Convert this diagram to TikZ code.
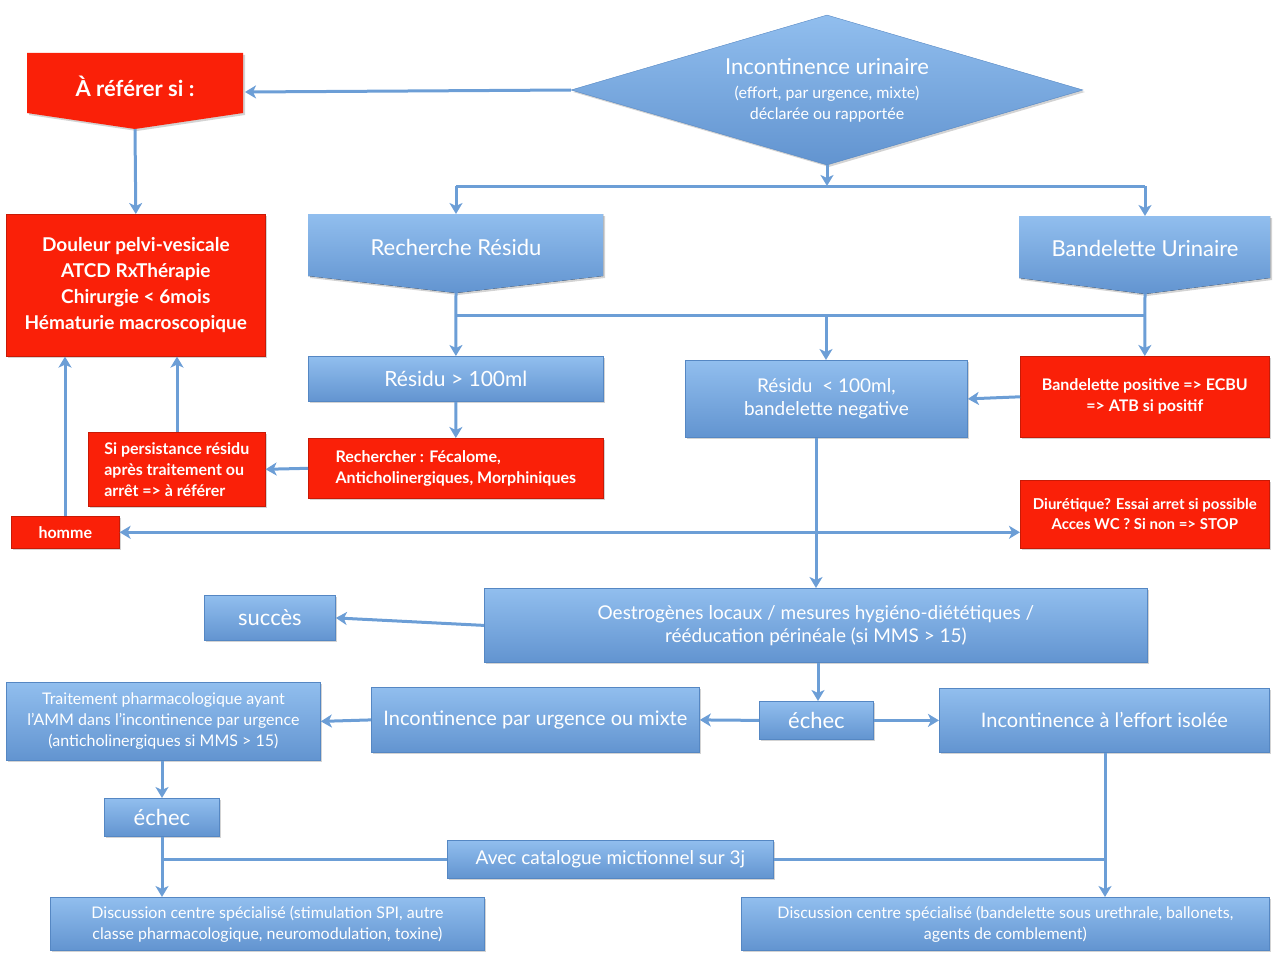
\documentclass[tikz,border=0pt]{standalone}
\usepackage{fontspec}
\setmainfont{Lato}
\usetikzlibrary{positioning,shapes.geometric,arrows.meta,shadows}
\definecolor{btop}{RGB}{145,190,238}
\definecolor{bbot}{RGB}{98,148,208}
\definecolor{bedge}{RGB}{85,135,195}
\definecolor{rfill}{RGB}{250,32,8}
\definecolor{rarrow}{RGB}{108,158,214}
\begin{document}
\begin{tikzpicture}[
  x=1pt, y=-1pt,
  bx/.style={draw=bedge, line width=0.8pt, top color=btop, bottom color=bbot, text=white,
    align=center, inner sep=2pt, anchor=north west, font=\fontsize{19}{23}\selectfont,
    drop shadow={shadow xshift=2pt, shadow yshift=-2pt, opacity=0.35}},
  rd/.style={draw=rfill!80!black, line width=0.6pt, fill=rfill, text=white, align=center,
    inner sep=2pt, anchor=north west, font=\bfseries\fontsize{16}{21}\selectfont,
    drop shadow={shadow xshift=2pt, shadow yshift=-2pt, opacity=0.35}},
  ar/.style={draw=rarrow, line width=3pt, -{Stealth[length=11pt,width=13pt,inset=3pt]}},
  ln/.style={draw=rarrow, line width=3pt}
]
\useasboundingbox (0,0) rectangle (1278,958);

% top of the chart
\node[diamond, draw=bedge, top color=btop, bottom color=bbot, text=white, align=center,
  minimum width=512pt, minimum height=150pt, inner sep=0pt, aspect=3.4,
  font=\fontsize{16}{21}\selectfont,
  drop shadow={shadow xshift=2pt, shadow yshift=-2pt, opacity=0.35}] (ui) at (827,90)
  {{\fontsize{22}{26}\selectfont Incontinence urinaire}\\[3pt]
   (effort, par urgence, mixte)\\
   déclarée ou rapportée};

\fill[rfill, drop shadow={shadow xshift=2pt, shadow yshift=-2pt, opacity=0.35}]
  (27,53) -- (243,53) -- (243,113) -- (135,129) -- (27,113) -- cycle;
\node[text=white, font=\bfseries\fontsize{22}{26}\selectfont] (ref) at (135,86) {À référer si :};
\coordinate (refb) at (135,129);

\node[rd, minimum width=259pt, minimum height=142pt, font=\bfseries\fontsize{19}{26}\selectfont] (dou) at (6,214)
  {Douleur pelvi-vesicale\\ATCD RxThérapie\\Chirurgie < 6mois\\Hématurie macroscopique};

\fill[top color=btop, bottom color=bbot, drop shadow={shadow xshift=2pt, shadow yshift=-2pt, opacity=0.35}]
  (308,214) -- (603,214) -- (603,276) -- (456,293) -- (308,276) -- cycle;
\node[text=white, font=\fontsize{22}{26}\selectfont] (rr) at (456,247) {Recherche Résidu};
\coordinate (rrb) at (456,293);

\fill[top color=btop, bottom color=bbot, drop shadow={shadow xshift=2pt, shadow yshift=-2pt, opacity=0.35}]
  (1019,216) -- (1270,216) -- (1270,278) -- (1145,294) -- (1019,278) -- cycle;
\node[text=white, font=\fontsize{22}{26}\selectfont] (bu) at (1145,248) {Bandelette Urinaire};
\coordinate (bub) at (1145,294);

% middle
\node[bx, minimum width=295pt, minimum height=45pt, font=\fontsize{21}{25}\selectfont] (rsup) at (308,356) {Résidu > 100ml};
\node[bx, minimum width=282pt, minimum height=77pt] (rinf) at (685,360) {Résidu \ < 100ml,\\bandelette negative};
\node[rd, minimum width=249pt, minimum height=81pt] (bpos) at (1020,356) {Bandelette positive => ECBU\\=> ATB si positif};
\node[rd, minimum width=295pt, minimum height=60pt, align=left] (rech) at (308,438) {Rechercher : Fécalome,\\Anticholinergiques, Morphiniques};
\node[rd, minimum width=177pt, minimum height=74pt, align=left] (pers) at (88,432) {Si persistance résidu\\après traitement ou\\arrêt => à référer};
\node[rd, minimum width=108pt, minimum height=32pt] (hom) at (11,516) {homme};
\node[rd, minimum width=249pt, minimum height=68pt, font=\bfseries\fontsize{15}{20}\selectfont] (diu) at (1020,480) {Diurétique? Essai arret si possible\\Acces WC ? Si non => STOP};

% bottom
\node[bx, minimum width=131pt, minimum height=45pt, font=\fontsize{22}{26}\selectfont] (suc) at (204,595) {succès};
\node[bx, minimum width=663pt, minimum height=74pt] (oes) at (484,588) {Oestrogènes locaux / mesures hygiéno-diététiques /\\rééducation périnéale (si MMS > 15)};
\node[bx, minimum width=314pt, minimum height=78pt, font=\fontsize{16}{21}\selectfont] (trt) at (6,682) {Traitement pharmacologique ayant\\l’AMM dans l’incontinence par urgence\\(anticholinergiques si MMS > 15)};
\node[bx, minimum width=328pt, minimum height=65pt, font=\fontsize{20}{24}\selectfont] (urg) at (371,687) {Incontinence par urgence ou mixte};
\node[bx, minimum width=114pt, minimum height=38pt, font=\fontsize{22}{26}\selectfont] (ech) at (759,701) {échec};
\node[bx, minimum width=330pt, minimum height=64pt, font=\fontsize{20}{24}\selectfont] (eff) at (939,688) {Incontinence à l’effort isolée};
\node[bx, minimum width=115pt, minimum height=38pt, font=\fontsize{22}{26}\selectfont] (ech2) at (104,798) {échec};
\node[bx, minimum width=326pt, minimum height=38pt] (cat) at (447,840) {Avec catalogue mictionnel sur 3j};
\node[bx, minimum width=434pt, minimum height=53pt, font=\fontsize{16}{21}\selectfont] (dl) at (50,897) {Discussion centre spécialisé (stimulation SPI, autre\\classe pharmacologique, neuromodulation, toxine)};
\node[bx, minimum width=528pt, minimum height=53pt, font=\fontsize{16}{21}\selectfont] (dr) at (741,897) {Discussion centre spécialisé (bandelette sous urethrale, ballonets,\\agents de comblement)};

% connectors
\draw[ar] (ui.west) -- (245,92);
\draw[ar] (refb) -- (dou.north);
\draw[ar] (ui.south) -- (ui.south |- 0,186);
\draw[ln] (456,186) -- (1145,186);
\draw[ar] (456,186) -- (rr.north |- 0,214);
\draw[ar] (1145,186) -- (1145,216);
\draw[ar] (rrb) -- (rsup.north);
\draw[ln] (456,315) -- (1145,315);
\draw[ar] (826,315) -- (rinf.north -| 826,0);
\draw[ar] (bub) -- (bpos.north);
\draw[ar] (rsup.south) -- (rech.north);
\draw[ar] (bpos.west) -- (rinf.east);
\draw[ar] (rech.west) -- (pers.east);
\draw[ar] (pers.north -| 177,0) -- (dou.south -| 177,0);
\draw[ar] (hom.north -| 65,0) -- (dou.south -| 65,0);
\draw[ar, {Stealth[length=11pt,width=13pt,inset=3pt]}-{Stealth[length=11pt,width=13pt,inset=3pt]}] (hom.east) -- (diu.west |- hom.east);
\draw[ar] (rinf.south -| 816,0) -- (oes.north -| 816,0);
\draw[ar] (oes.west) -- (suc.east);
\draw[ar] (oes.south -| 818,0) -- (ech.north -| 818,0);
\draw[ar] (ech.west) -- (urg.east);
\draw[ar] (ech.east) -- (eff.west);
\draw[ar] (urg.west) -- (trt.east);
\draw[ar] (trt.south -| 162,0) -- (ech2.north -| 162,0);
\draw[ar] (ech2.south -| 162,0) -- (dl.north -| 162,0);
\draw[ar] (eff.south -| 1105,0) -- (dr.north -| 1105,0);
\draw[ln] (cat.west) -- (cat.west -| 162,0);
\draw[ln] (cat.east) -- (cat.east -| 1105,0);
\end{tikzpicture}
\end{document}
